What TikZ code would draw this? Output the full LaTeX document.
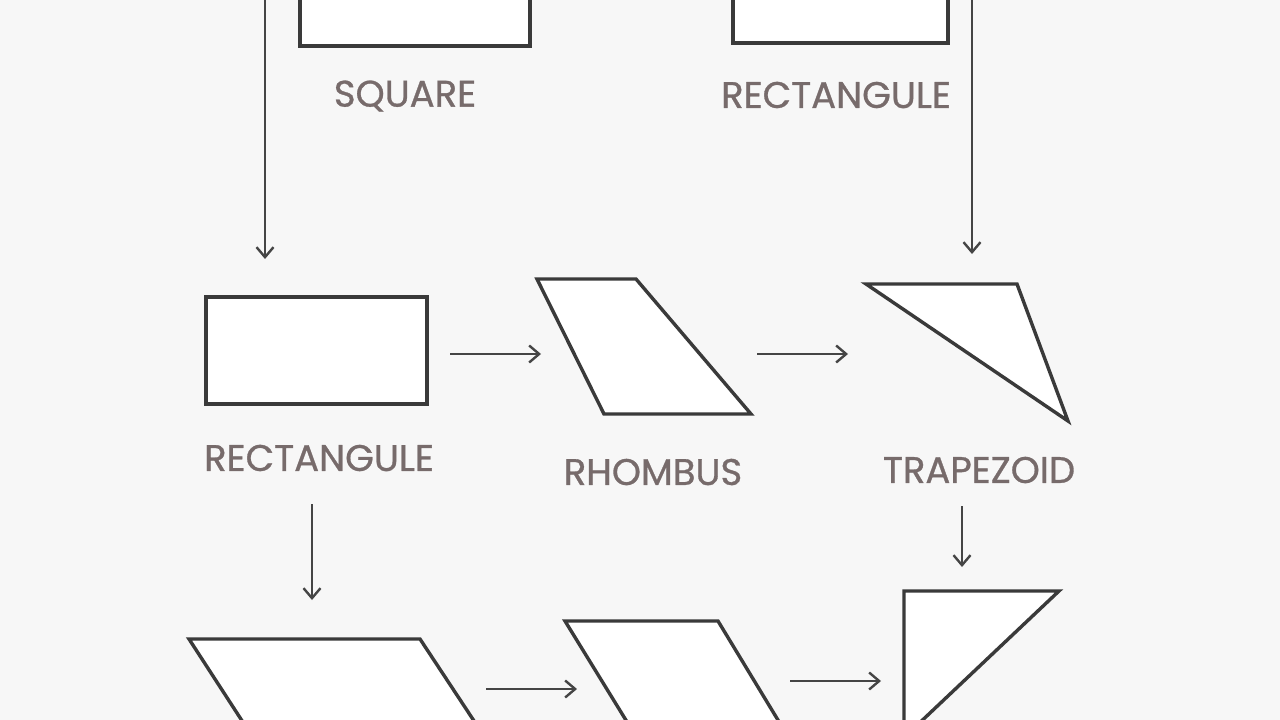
\documentclass[tikz,border=0pt]{standalone}
\usepackage{fontspec}
\setmainfont{Poppins}
\newfontfamily\lblfont{Poppins}[BoldFont=Poppins, BoldFeatures={FakeBold=0.8}]
\usetikzlibrary{arrows.meta}
\definecolor{bg}{HTML}{F7F7F7}
\definecolor{edge}{HTML}{3A3A3A}
\definecolor{arr}{HTML}{454545}
\definecolor{lab}{HTML}{776B6B}
\tikzset{
  shapeline/.style={draw=edge, line width=3.4pt, fill=white, line join=miter},
  conn/.style={draw=arr, line width=2pt, -{Straight Barb[length=10pt,width=17pt,line width=2.4pt]}},
  lbl/.style={text=lab, font=\lblfont\bfseries\fontsize{37}{42}\selectfont, inner sep=0pt, anchor=center}
}
\begin{document}
\begin{tikzpicture}[x=1pt,y=-1pt]
\fill[bg] (0,0) rectangle (1280,720);
\useasboundingbox (0,0) rectangle (1280,720);
\begin{scope}
\clip (0,0) rectangle (1280,720);
% top shapes
\draw[shapeline] (300,-10) rectangle (530,46);
\draw[shapeline] (733,-10) rectangle (948,43);
\node[lbl] (lsq) at (405,96) {SQUARE};
\node[lbl] (lrt) at (836,95) {RECTANGULE};
% middle row
\draw[shapeline] (206,297) rectangle (427,404);
\node[lbl] (lr2) at (319,458) {RECTANGULE};
\draw[shapeline] (537,279) -- (636,279) -- (751,414) -- (604,414) -- cycle;
\node[lbl] (lrh) at (653,472) {RHOMBUS};
\draw[shapeline] (866,284) -- (1017,284) -- (1068,421) -- cycle;
\node[lbl] (ltz) at (979,470) {TRAPEZOID};
% bottom row
\draw[shapeline] (189,639) -- (420,639) -- (480,730) -- (248,730) -- cycle;
\draw[shapeline] (565,621) -- (718,621) -- (784,730) -- (632,730) -- cycle;
\draw[shapeline] (904,591) -- (1059,591) -- (912,730) -- (904,730) -- cycle;
% connectors
\coordinate (s1) at (265,-5); \coordinate (e1) at (265,259);
\coordinate (s2) at (972,-5); \coordinate (e2) at (972,254);
\coordinate (s3) at (450,354); \coordinate (e3) at (541,354);
\coordinate (s4) at (757,354); \coordinate (e4) at (848,354);
\coordinate (s5) at (962,506); \coordinate (e5) at (962,567);
\coordinate (s6) at (312,504); \coordinate (e6) at (312,600);
\coordinate (s7) at (486,689); \coordinate (e7) at (577,689);
\coordinate (s8) at (790,681); \coordinate (e8) at (881,681);
\foreach \i in {1,...,8} {\draw[conn] (s\i) -- (e\i);}
\end{scope}
\end{tikzpicture}
\end{document}
